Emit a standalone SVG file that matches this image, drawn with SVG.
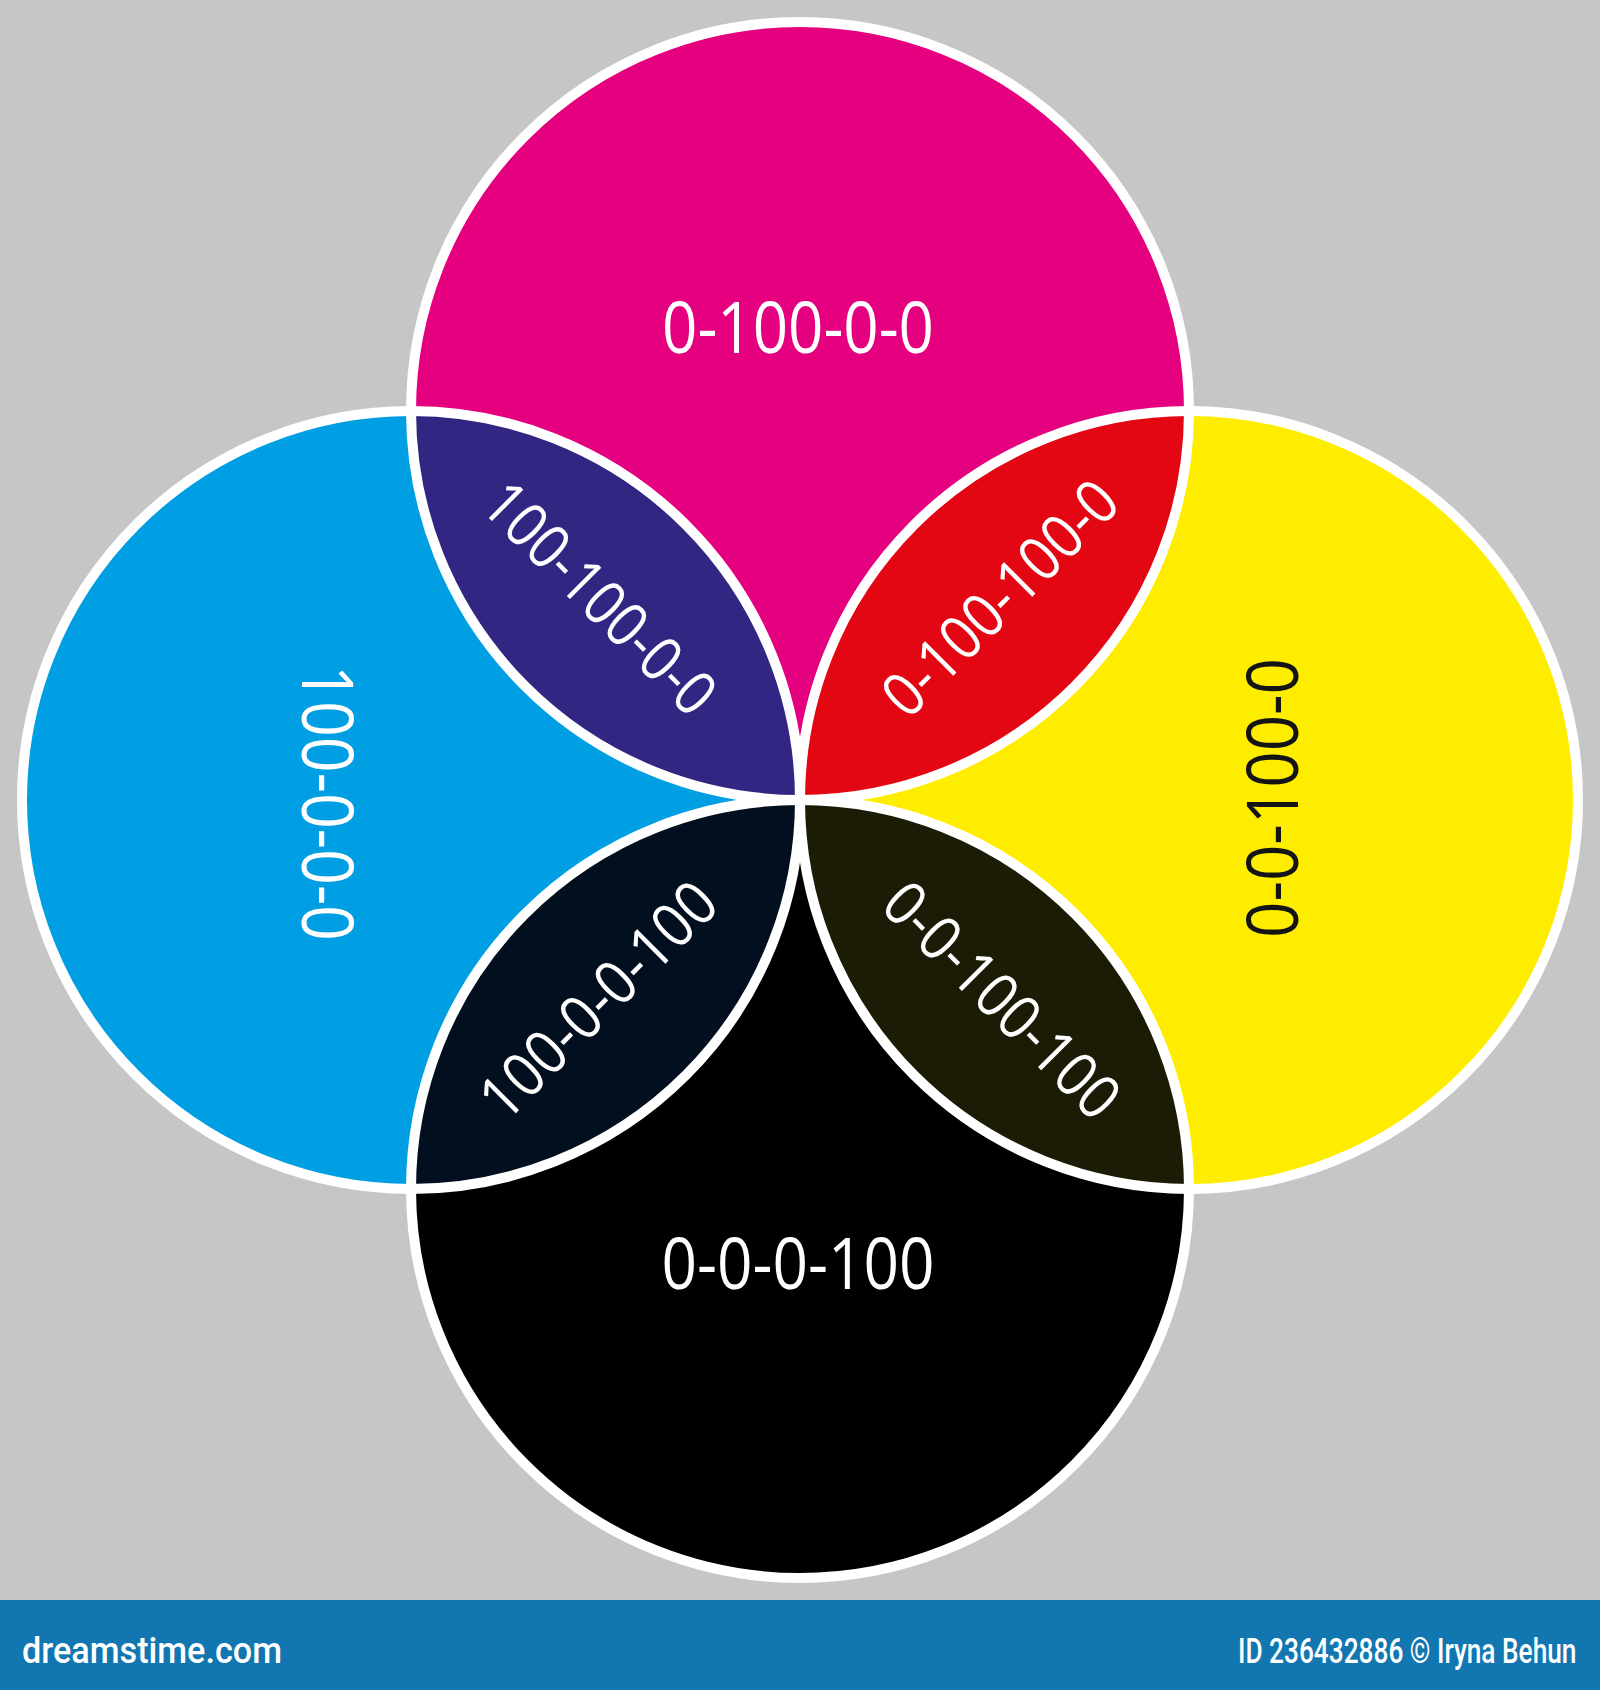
<svg xmlns="http://www.w3.org/2000/svg" width="1600" height="1690" viewBox="0 0 1600 1690">
  <style>
    .lbl { font-family: "Open Sans", "Noto Sans", sans-serif; fill: #ffffff; text-anchor: middle; }
    .main { font-size: 72px; }
    .lens { font-size: 62px; }
    .dark { fill: #141414; }
    .ring { fill: none; stroke: #ffffff; stroke-width: 10; }
    .foot { font-family: "Roboto", "Open Sans", sans-serif; fill: #ffffff; }
  </style>
  <rect x="0" y="0" width="1600" height="1690" fill="#c6c6c6"/>

  <g id="circle-magenta"><circle cx="800" cy="411" r="389" fill="#e4007f"/></g>
  <g id="circle-cyan"><circle cx="411" cy="800" r="389" fill="#009fe3"/></g>
  <g id="circle-yellow"><circle cx="1189" cy="800" r="389" fill="#ffed00"/></g>
  <g id="circle-black"><circle cx="800" cy="1189" r="389" fill="#000000"/></g>

  <g id="lens-cyan-magenta"><path d="M411,411 A389,389 0 0 0 800,800 A389,389 0 0 0 411,411 Z" fill="#312783"/></g>
  <g id="lens-magenta-yellow"><path d="M1189,411 A389,389 0 0 1 800,800 A389,389 0 0 1 1189,411 Z" fill="#e30613"/></g>
  <g id="lens-cyan-black"><path d="M800,800 A389,389 0 0 0 411,1189 A389,389 0 0 0 800,800 Z" fill="#020f1f"/></g>
  <g id="lens-yellow-black"><path d="M800,800 A389,389 0 0 1 1189,1189 A389,389 0 0 1 800,800 Z" fill="#1c1c06"/></g>

  <g id="outlines">
    <circle class="ring" cx="800" cy="411" r="389"/>
    <circle class="ring" cx="411" cy="800" r="389"/>
    <circle class="ring" cx="1189" cy="800" r="389"/>
    <circle class="ring" cx="800" cy="1189" r="389"/>
  </g>

  <g id="labels">
    <text class="lbl main" x="798" y="353" textLength="272" lengthAdjust="spacingAndGlyphs">0-100-0-0</text>
    <text class="lbl main" x="798" y="1289" textLength="273" lengthAdjust="spacingAndGlyphs">0-0-0-100</text>
    <text class="lbl main" transform="translate(328,803) rotate(90)" x="0" y="26" textLength="276" lengthAdjust="spacingAndGlyphs">100-0-0-0</text>
    <text class="lbl main dark" transform="translate(1272,798) rotate(-90)" x="0" y="26" textLength="280" lengthAdjust="spacingAndGlyphs">0-0-100-0</text>
    <text class="lbl lens" transform="translate(600,598) rotate(45)" x="0" y="22" textLength="300" lengthAdjust="spacingAndGlyphs">100-100-0-0</text>
    <text class="lbl lens" transform="translate(1000,598) rotate(-45)" x="0" y="22" textLength="304" lengthAdjust="spacingAndGlyphs">0-100-100-0</text>
    <text class="lbl lens" transform="translate(598,1000) rotate(-45)" x="0" y="22" textLength="306" lengthAdjust="spacingAndGlyphs">100-0-0-100</text>
    <text class="lbl lens" transform="translate(1002,1000) rotate(45)" x="0" y="22" textLength="305" lengthAdjust="spacingAndGlyphs">0-0-100-100</text>
  </g>

  <g id="footer">
    <rect x="0" y="1600" width="1600" height="90" fill="#1277b0"/>
    <text class="foot" x="22" y="1663" font-size="36" font-weight="500" textLength="260" lengthAdjust="spacingAndGlyphs">dreamstime.com</text>
    <text class="foot" transform="translate(1238,1663) scale(0.75,1)" x="0" y="0" font-size="35" font-weight="500">ID 236432886 © Iryna Behun</text>
  </g>
</svg>
